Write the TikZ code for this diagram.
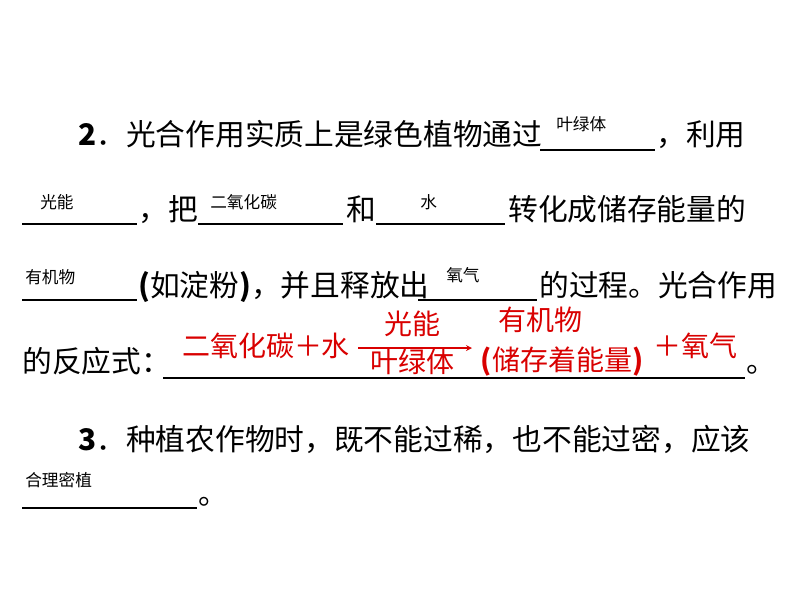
\documentclass[tikz,border=0pt]{standalone}
\usepackage{fontspec}
\setmainfont{Liberation Serif}
\newfontfamily\cjk{Noto Sans CJK SC}
\begin{document}
\begin{tikzpicture}[x=0.75pt,y=-0.75pt,
  main/.style={anchor=base west,inner sep=0pt,font=\cjk\fontsize{22.3}{22.3}\selectfont},
  lab/.style={anchor=base west,inner sep=0pt,font=\cjk\fontsize{12.5}{12.5}\selectfont},
  red/.style={anchor=base,inner sep=0pt,text=red!85!black,font=\cjk\fontsize{21}{21}\selectfont},
  uline/.style={line width=1.4pt}]
\useasboundingbox[fill=white] (0,0) rectangle (794,596);
% line 1
\node[main] (t1) at (78,145) {\textbf{2}．光合作用实质上是绿色植物通过};
\coordinate (u1a) at (540,150); \coordinate (u1b) at (655,150);
\draw[uline] (u1a) -- (u1b);
\node[main] (t1b) at (656,145) {，利用};
\node[lab] (l1) at (556,130) {叶绿体};
% line 2
\coordinate (u2a) at (22,224); \coordinate (u2b) at (137,224);
\draw[uline] (u2a) -- (u2b);
\node[main] (t2a) at (138,220) {，把};
\coordinate (u2c) at (198,224); \coordinate (u2d) at (343,224);
\draw[uline] (u2c) -- (u2d);
\node[main] (t2b) at (346,220) {和};
\coordinate (u2e) at (376,224); \coordinate (u2f) at (505,224);
\draw[uline] (u2e) -- (u2f);
\node[main] (t2c) at (508,220) {转化成储存能量的};
\node[lab] (l2a) at (40,208) {光能};
\node[lab] (l2b) at (210,208) {二氧化碳};
\node[lab] (l2c) at (420,208) {水};
% line 3
\coordinate (u3a) at (22,300); \coordinate (u3b) at (137,300);
\draw[uline] (u3a) -- (u3b);
\node[main] (t3a) at (138,296) {\textbf{(}如淀粉\textbf{)}，并且释放出};
\coordinate (u3c) at (418,300); \coordinate (u3d) at (537,300);
\draw[uline] (u3c) -- (u3d);
\node[main] (t3b) at (539,296) {的过程。光合作用};
\node[lab] (l3a) at (25,283) {有机物};
\node[lab] (l3b) at (446,281) {氧气};
% line 4
\node[main] (t4a) at (22,372) {的反应式：};
\coordinate (u4a) at (163,378); \coordinate (u4b) at (745,378);
\draw[uline] (u4a) -- (u4b);
\node[main] (t4b) at (746,372) {。};
\node[red] (r1) at (266,356) {二氧化碳＋水};
\node[red] (r2) at (412,334) {光能};
\node[red] (r3) at (412,372) {叶绿体};
\coordinate (ar1) at (358,348); \coordinate (ar2) at (472,348);
\draw[red!85!black,line width=1pt,-stealth] (ar1) -- (ar2);
\node[red] (r4) at (540,330) {有机物};
\node[red] (r5) at (562,370) {\textbf{(}储存着能量\textbf{)}};
\node[red] (r6) at (695,356) {＋氧气};
% line 5
\node[main] (t5) at (78,450) {\textbf{3}．种植农作物时，既不能过稀，也不能过密，应该};
% line 6
\coordinate (u6a) at (22,508); \coordinate (u6b) at (197,508);
\draw[uline] (u6a) -- (u6b);
\node[main] (t6) at (198,504) {。};
\node[lab] (l6) at (25,486) {合理密植};
\end{tikzpicture}
\end{document}
